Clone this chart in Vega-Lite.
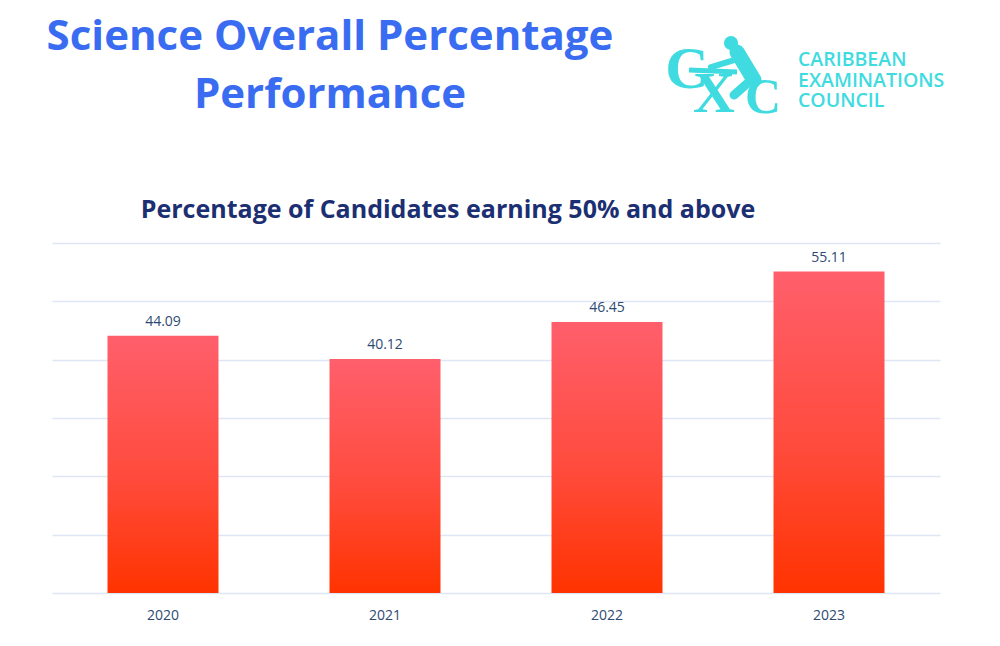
{
  "$schema": "https://vega.github.io/schema/vega-lite/v6.json",
  "width": 888,
  "height": 350,
  "autosize": {"type": "none"},
  "padding": {"left": 52, "top": 243, "right": 60, "bottom": 53},
  "background": "#ffffff",
  "config": {
    "view": {"stroke": null},
    "font": "Open Sans"
  },
  "layer": [
    {
      "data": {
        "values": [
          {"year": "2020", "pct": 44.09},
          {"year": "2021", "pct": 40.12},
          {"year": "2022", "pct": 46.45},
          {"year": "2023", "pct": 55.11}
        ]
      },
      "layer": [
        {
          "mark": {
            "type": "bar",
            "color": {
              "gradient": "linear",
              "x1": 0, "y1": 0, "x2": 0, "y2": 1,
              "stops": [
                {"offset": 0, "color": "#ff5f6c"},
                {"offset": 0.55, "color": "#ff4b3c"},
                {"offset": 1, "color": "#ff3300"}
              ]
            }
          },
          "encoding": {
            "x": {
              "field": "year",
              "type": "nominal",
              "scale": {"paddingInner": 0.5, "paddingOuter": 0.25},
              "axis": {
                "title": null,
                "domain": false,
                "ticks": false,
                "grid": false,
                "labelAngle": 0,
                "labelFont": "Open Sans",
                "labelFontSize": 14,
                "labelColor": "#2e4a72",
                "labelPadding": 15
              }
            },
            "y": {
              "field": "pct",
              "type": "quantitative",
              "scale": {"domain": [0, 60]},
              "axis": {
                "title": null,
                "domain": false,
                "ticks": false,
                "labels": false,
                "grid": true,
                "gridColor": "#dde6f4",
                "gridWidth": 1.5,
                "values": [0, 10, 20, 30, 40, 50, 60]
              }
            }
          }
        },
        {
          "mark": {
            "type": "text",
            "baseline": "alphabetic",
            "dy": -10,
            "font": "Open Sans",
            "fontSize": 14,
            "color": "#2e4a72"
          },
          "encoding": {
            "x": {"field": "year", "type": "nominal"},
            "y": {"field": "pct", "type": "quantitative"},
            "text": {"field": "pct", "type": "quantitative", "format": ".2f"}
          }
        }
      ]
    },
    {
      "data": {"values": [{"caption": "Percentage of Candidates earning 50% and above"}]},
      "mark": {
        "type": "text",
        "align": "center",
        "baseline": "alphabetic",
        "dx": 63,
        "font": "Open Sans",
        "fontSize": 25,
        "fontWeight": "bold",
        "color": "#1b2f72"
      },
      "encoding": {
        "x": {"datum": "2021"},
        "y": {"datum": 64.3},
        "text": {"field": "caption"}
      }
    },
    {
      "data": {"values": [{"heading": "Science Overall Percentage\nPerformance"}]},
      "mark": {
        "type": "text",
        "lineBreak": "\n",
        "lineHeight": 58,
        "align": "center",
        "baseline": "alphabetic",
        "dx": -55,
        "font": "Open Sans",
        "fontSize": 42,
        "fontWeight": "bold",
        "color": "#3a6cf2"
      },
      "encoding": {
        "x": {"datum": "2021"},
        "y": {"datum": 93.09},
        "text": {"field": "heading"}
      }
    },
    {
      "data": {"values": [{"org": "CARIBBEAN\nEXAMINATIONS\nCOUNCIL"}]},
      "mark": {
        "type": "text",
        "lineBreak": "\n",
        "lineHeight": 20.5,
        "align": "left",
        "baseline": "alphabetic",
        "dx": -31,
        "font": "Open Sans",
        "fontSize": 19.5,
        "fontWeight": 600,
        "color": "#40dbe0"
      },
      "encoding": {
        "x": {"datum": "2023"},
        "y": {"datum": 90.34},
        "text": {"field": "org"}
      }
    },
    {
      "data": {"values": [{"glyph": "C"}]},
      "mark": {
        "type": "text", "align": "center", "baseline": "alphabetic", "dx": -142,
        "font": "Liberation Serif", "fontSize": 60, "fontWeight": "bold", "color": "#40dbe0"
      },
      "encoding": {"x": {"datum": "2023"}, "y": {"datum": 86.57}, "text": {"field": "glyph"}}
    },
    {
      "data": {"values": [{"glyph": "X"}]},
      "mark": {
        "type": "text", "align": "center", "baseline": "alphabetic", "dx": -115,
        "font": "Liberation Serif", "fontSize": 58, "fontWeight": "bold", "color": "#40dbe0"
      },
      "encoding": {"x": {"datum": "2023"}, "y": {"datum": 82.46}, "text": {"field": "glyph"}}
    },
    {
      "data": {"values": [{"glyph": "C"}]},
      "mark": {
        "type": "text", "align": "center", "baseline": "alphabetic", "dx": -66,
        "font": "Liberation Serif", "fontSize": 50, "fontWeight": "bold", "color": "#40dbe0"
      },
      "encoding": {"x": {"datum": "2023"}, "y": {"datum": 82.29}, "text": {"field": "glyph"}}
    },
    {
      "data": {"values": [{"part": "head"}]},
      "mark": {"type": "point", "shape": "circle", "filled": true, "size": 200, "opacity": 1, "color": "#40dbe0", "xOffset": -98},
      "encoding": {"x": {"datum": "2023"}, "y": {"datum": 94.29}}
    },
    {
      "data": {"values": [{"part": "torso"}]},
      "mark": {"type": "rule", "strokeWidth": 15, "strokeCap": "round", "color": "#40dbe0", "xOffset": -92, "x2Offset": -75},
      "encoding": {"x": {"datum": "2023"}, "x2": {"datum": "2023"}, "y": {"datum": 92.74}, "y2": {"datum": 87.94}}
    },
    {
      "data": {"values": [{"part": "leg"}]},
      "mark": {"type": "rule", "strokeWidth": 9, "strokeCap": "round", "color": "#40dbe0", "xOffset": -78, "x2Offset": -95},
      "encoding": {"x": {"datum": "2023"}, "x2": {"datum": "2023"}, "y": {"datum": 87.94}, "y2": {"datum": 85.37}}
    },
    {
      "data": {"values": [{"part": "arm"}]},
      "mark": {"type": "rule", "strokeWidth": 6, "strokeCap": "round", "color": "#40dbe0", "xOffset": -95, "x2Offset": -118},
      "encoding": {"x": {"datum": "2023"}, "x2": {"datum": "2023"}, "y": {"datum": 91.37}, "y2": {"datum": 90.17}}
    },
    {
      "data": {"values": [{"part": "desk"}]},
      "mark": {"type": "rule", "strokeWidth": 5, "color": "#40dbe0", "xOffset": -140, "x2Offset": -92},
      "encoding": {"x": {"datum": "2023"}, "x2": {"datum": "2023"}, "y": {"datum": 89.66}, "y2": {"datum": 89.31}}
    }
  ]
}
